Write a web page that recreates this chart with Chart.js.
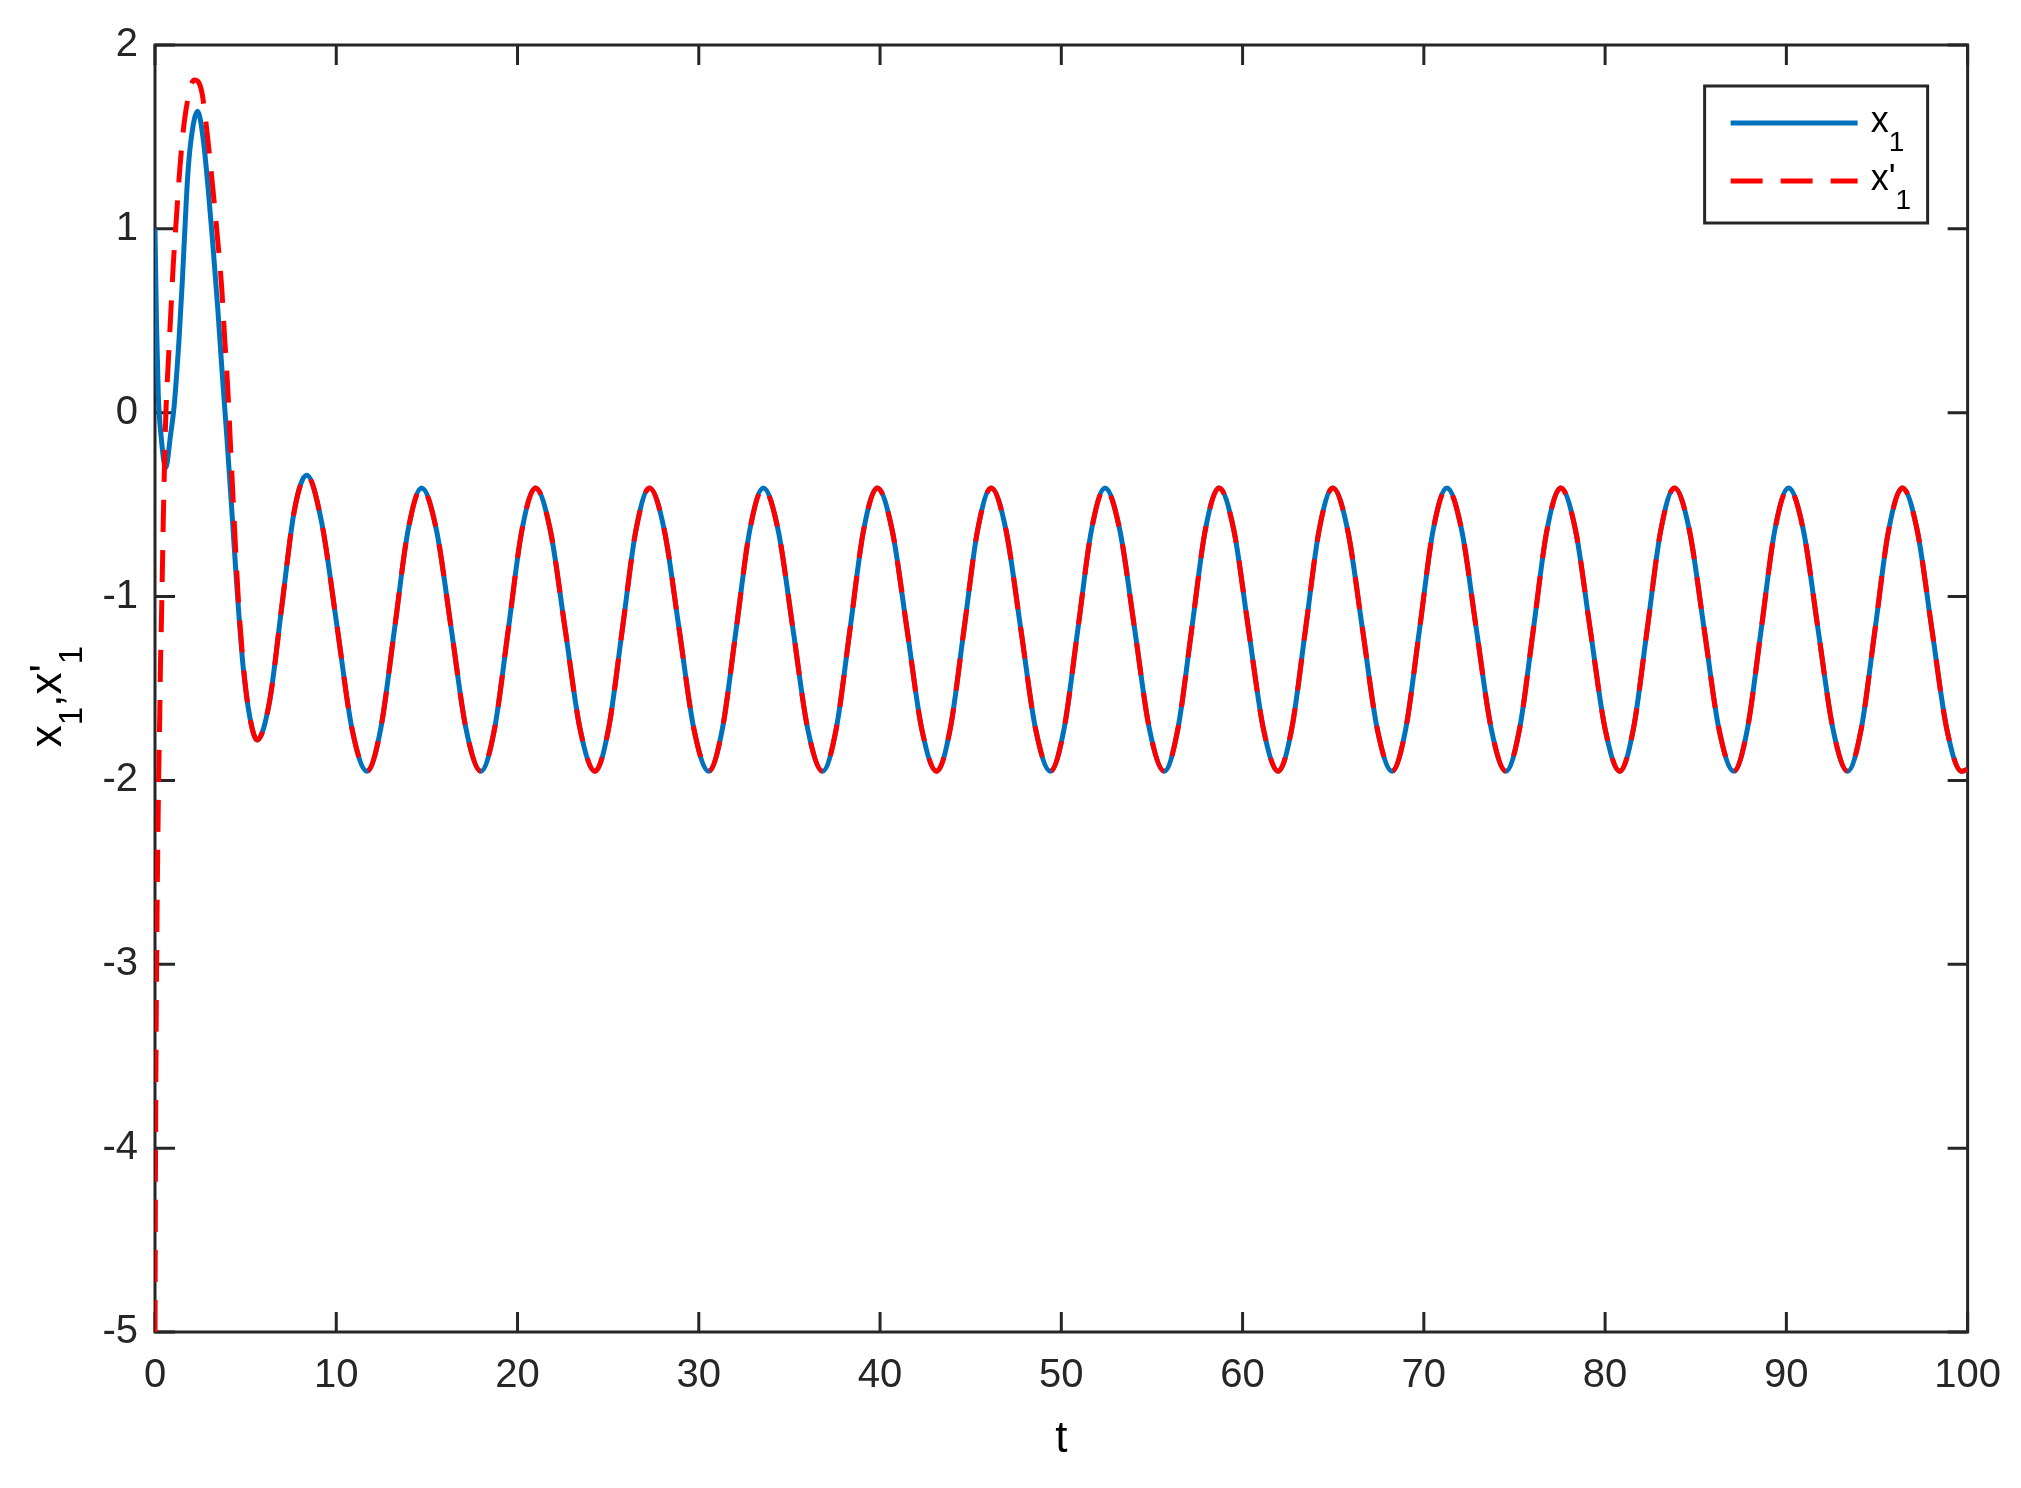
<!DOCTYPE html>
<html>
<head>
<meta charset="utf-8">
<script src="https://cdn.jsdelivr.net/npm/chart.js@4.4.0/dist/chart.umd.min.js"></script>
<style>
  html, body { margin: 0; padding: 0; background: #fff; }
</style>
</head>
<body>
<canvas id="linechart" width="2021" height="1488"></canvas>
<script>
// Transient part of x1 (t < 8.37)
const tX1 = [0.00, 0.08, 0.18, 0.33, 0.59, 0.86, 1.05, 1.32, 1.51, 1.65, 1.80, 1.97, 2.35, 2.67, 2.94, 3.18,
  3.46, 3.71, 3.97, 4.25, 4.54, 4.87, 5.24, 5.64, 6.32, 7.00, 7.69];
const x1Start = [1.00, 0.50, 0.10, -0.12, -0.30, -0.12, 0.03, 0.39, 0.72, 1.00, 1.28, 1.47, 1.64, 1.48, 1.21, 0.93,
  0.57, 0.21, -0.14, -0.55, -0.98, -1.39, -1.66, -1.78, -1.57, -1.05, -0.53];

// Transient part of x'1 (observer estimate)
const tX1p = [0.00, 0.03, 0.09, 0.20, 0.26, 0.30, 0.36, 0.41, 0.46, 0.52, 0.60, 0.72, 0.86, 1.00, 1.18, 1.38,
  1.64, 2.17, 2.57, 2.90, 3.18, 3.44, 3.68, 3.84, 4.01, 4.20, 4.40, 4.60, 4.89, 5.24, 5.64, 6.32, 7.00, 7.69];
const x1pStart = [-5.00, -4.00, -3.00, -2.00, -1.66, -1.38, -1.11, -0.84, -0.57, -0.30, 0.00, 0.25, 0.52, 0.79, 1.06, 1.34,
  1.60, 1.81, 1.75, 1.50, 1.23, 0.96, 0.68, 0.41, 0.14, -0.25, -0.65, -1.02, -1.39, -1.66, -1.78, -1.57, -1.05, -0.53];

// Steady oscillation, both curves lie on top of each other here
const tSteady = [8.37, 9.20, 10.04, 10.87,
  11.70, 12.45, 13.21, 13.96, 14.71, 15.53, 16.35, 17.16,
  17.98, 18.73, 19.49, 20.24, 20.99, 21.81, 22.63, 23.45,
  24.27, 25.02, 25.78, 26.53, 27.28, 28.10, 28.92, 29.73,
  30.55, 31.30, 32.06, 32.81, 33.56, 34.38, 35.20, 36.01,
  36.83, 37.58, 38.34, 39.09, 39.85, 40.67, 41.49, 42.30,
  43.12, 43.87, 44.63, 45.38, 46.13, 46.95, 47.77, 48.58,
  49.40, 50.15, 50.91, 51.66, 52.41, 53.23, 54.05, 54.86,
  55.68, 56.43, 57.19, 57.94, 58.70, 59.52, 60.33, 61.15,
  61.96, 62.71, 63.47, 64.22, 64.98, 65.80, 66.62, 67.43,
  68.25, 69.00, 69.76, 70.51, 71.27, 72.09, 72.90, 73.72,
  74.53, 75.28, 76.04, 76.79, 77.55, 78.37, 79.18, 80.00,
  80.81, 81.56, 82.32, 83.07, 83.83, 84.65, 85.47, 86.28,
  87.10, 87.85, 88.61, 89.36, 90.12, 90.94, 91.75, 92.57,
  93.38, 94.13, 94.89, 95.64, 96.40, 97.22, 98.03, 98.85,
  99.66, 100.00];
const ySteady = [-0.34, -0.60, -1.16, -1.72,
  -1.95, -1.72, -1.18, -0.64, -0.41, -0.64, -1.18, -1.72,
  -1.95, -1.72, -1.18, -0.64, -0.41, -0.64, -1.18, -1.72,
  -1.95, -1.72, -1.18, -0.64, -0.41, -0.64, -1.18, -1.72,
  -1.95, -1.72, -1.18, -0.64, -0.41, -0.64, -1.18, -1.72,
  -1.95, -1.72, -1.18, -0.64, -0.41, -0.64, -1.18, -1.72,
  -1.95, -1.72, -1.18, -0.64, -0.41, -0.64, -1.18, -1.72,
  -1.95, -1.72, -1.18, -0.64, -0.41, -0.64, -1.18, -1.72,
  -1.95, -1.72, -1.18, -0.64, -0.41, -0.64, -1.18, -1.72,
  -1.95, -1.72, -1.18, -0.64, -0.41, -0.64, -1.18, -1.72,
  -1.95, -1.72, -1.18, -0.64, -0.41, -0.64, -1.18, -1.72,
  -1.95, -1.72, -1.18, -0.64, -0.41, -0.64, -1.18, -1.72,
  -1.95, -1.72, -1.18, -0.64, -0.41, -0.64, -1.18, -1.72,
  -1.95, -1.72, -1.18, -0.64, -0.41, -0.64, -1.18, -1.72,
  -1.95, -1.72, -1.18, -0.64, -0.41, -0.64, -1.18, -1.72,
  -1.95, -1.94];

const xTicks = [0, 10, 20, 30, 40, 50, 60, 70, 80, 90, 100];
const yTicks = [-5, -4, -3, -2, -1, 0, 1, 2];

const FONT = '"Liberation Sans", Arial, Helvetica, sans-serif';
const INK = '#262626';
const BLUE = '#0072BD';
const RED = '#FF0000';

function toPoints(ts, ys) {
  return ts.map((t, i) => ({x: t, y: ys[i]}));
}

// text with subscripts: parts = [{text, sub}]
function drawRich(ctx, parts, x, y, size, subSize, drop) {
  let cx = x;
  parts.forEach(p => {
    ctx.font = (p.sub ? subSize : size) + 'px ' + FONT;
    ctx.fillText(p.text, cx, p.sub ? y + drop : y);
    cx += ctx.measureText(p.text).width;
  });
}
function richWidth(ctx, parts, size, subSize) {
  let w = 0;
  parts.forEach(p => {
    ctx.font = (p.sub ? subSize : size) + 'px ' + FONT;
    w += ctx.measureText(p.text).width;
  });
  return w;
}

const matlabAxes = {
  id: 'matlabAxes',
  beforeDatasetsDraw(chart) {
    const {ctx, chartArea: a, scales} = chart;
    ctx.save();
    ctx.strokeStyle = INK;
    ctx.lineWidth = 3;
    ctx.strokeRect(a.left, a.top, a.right - a.left, a.bottom - a.top);
    const tl = 20;
    ctx.beginPath();
    xTicks.forEach(v => {
      const px = scales.x.getPixelForValue(v);
      ctx.moveTo(px, a.bottom); ctx.lineTo(px, a.bottom - tl);
      ctx.moveTo(px, a.top); ctx.lineTo(px, a.top + tl);
    });
    yTicks.forEach(v => {
      const py = scales.y.getPixelForValue(v);
      ctx.moveTo(a.left, py); ctx.lineTo(a.left + tl, py);
      ctx.moveTo(a.right, py); ctx.lineTo(a.right - tl, py);
    });
    ctx.stroke();
    ctx.restore();
  },
  afterDraw(chart) {
    const {ctx, chartArea: a} = chart;
    ctx.save();
    ctx.fillStyle = '#000';
    ctx.textBaseline = 'alphabetic';

    // x label
    ctx.font = '44px ' + FONT;
    ctx.textAlign = 'center';
    ctx.fillText('t', (a.left + a.right) / 2, a.bottom + 120);

    // y label, rotated
    ctx.textAlign = 'left';
    const yParts = [{text: 'x'}, {text: '1', sub: true}, {text: ','}, {text: 'x\''}, {text: '1', sub: true}];
    const w = richWidth(ctx, yParts, 44, 33);
    ctx.save();
    ctx.translate(61, (a.top + a.bottom) / 2 + 8);
    ctx.rotate(-Math.PI / 2);
    drawRich(ctx, yParts, -w / 2, 0, 44, 33, 21);
    ctx.restore();

    // legend box
    const bx = a.right - 263, by = a.top + 41, bw = 223, bh = 137;
    ctx.fillStyle = '#fff';
    ctx.fillRect(bx, by, bw, bh);
    ctx.strokeStyle = INK;
    ctx.lineWidth = 3;
    ctx.strokeRect(bx, by, bw, bh);

    ctx.lineWidth = 5;
    ctx.strokeStyle = BLUE;
    ctx.beginPath();
    ctx.moveTo(bx + 26, by + 37); ctx.lineTo(bx + 153, by + 37);
    ctx.stroke();
    ctx.strokeStyle = RED;
    ctx.setLineDash([32, 18]);
    ctx.beginPath();
    ctx.moveTo(bx + 26, by + 95); ctx.lineTo(bx + 153, by + 95);
    ctx.stroke();
    ctx.setLineDash([]);

    ctx.fillStyle = '#000';
    drawRich(ctx, [{text: 'x'}, {text: '1', sub: true}], bx + 166, by + 46, 36, 28, 19);
    drawRich(ctx, [{text: 'x\''}, {text: '1', sub: true}], bx + 166, by + 104, 36, 28, 19);
    ctx.restore();
  }
};

new Chart('linechart', {
  type: 'line',
  data: {
    datasets: [
      {
        label: 'x1',
        data: toPoints(tX1.concat(tSteady), x1Start.concat(ySteady)),
        borderColor: BLUE,
        borderWidth: 5,
        pointRadius: 0,
        fill: false,
        cubicInterpolationMode: 'monotone',
        order: 1
      },
      {
        label: "x'1",
        data: toPoints(tX1p.concat(tSteady), x1pStart.concat(ySteady)),
        borderColor: RED,
        borderWidth: 5,
        borderDash: [32, 18],
        pointRadius: 0,
        fill: false,
        cubicInterpolationMode: 'monotone',
        order: 0
      }
    ]
  },
  options: {
    responsive: false,
    devicePixelRatio: 1,
    animation: false,
    layout: {padding: {top: 45, right: 51, left: 0, bottom: 0}},
    plugins: {legend: {display: false}, tooltip: {enabled: false}},
    scales: {
      x: {
        type: 'linear',
        min: 0,
        max: 100,
        afterFit: s => { s.height = 156; },
        afterBuildTicks: s => { s.ticks = xTicks.map(v => ({value: v})); },
        ticks: {color: INK, font: {family: FONT, size: 40}, padding: 20, maxRotation: 0, autoSkip: false},
        grid: {drawOnChartArea: false, drawTicks: false},
        border: {display: false}
      },
      y: {
        type: 'linear',
        min: -5,
        max: 2,
        afterFit: s => { s.width = 155; },
        afterBuildTicks: s => { s.ticks = yTicks.map(v => ({value: v})); },
        ticks: {color: INK, font: {family: FONT, size: 40}, padding: 17},
        grid: {drawOnChartArea: false, drawTicks: false},
        border: {display: false}
      }
    }
  },
  plugins: [matlabAxes]
});
</script>
</body>
</html>
